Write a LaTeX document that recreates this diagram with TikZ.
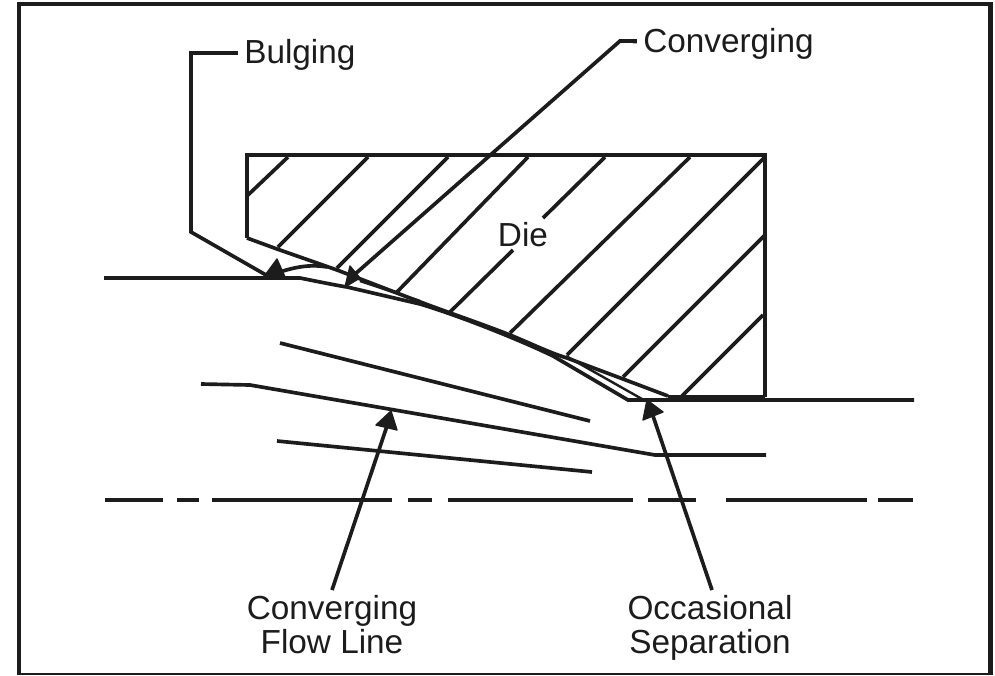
\documentclass[tikz,border=0pt]{standalone}
\usepackage{fontspec}
\setmainfont{Liberation Sans}
\definecolor{ink}{gray}{0.11}
\tikzset{
  ln/.style={draw=ink,line width=2.75pt,line join=miter,line cap=butt},
  thin ln/.style={draw=ink,line width=1.8pt},
  tip/.style={fill=ink,draw=ink,line width=1pt,line join=round},
  lab/.style={text=ink,font=\fontsize{25}{25.2}\selectfont,inner sep=0pt,align=center},
}
\begin{document}
\begin{tikzpicture}[x=0.75pt,y=-0.75pt]
\useasboundingbox (0,0) rectangle (995,675);
\fill[white] (0,0) rectangle (995,675);
% frame
\fill[ink] (17,2) rectangle (993,6);
\fill[ink] (17,2) rectangle (21,675);
\fill[ink] (988,2) rectangle (993,675);
\fill[ink] (17,672.7) rectangle (993,675);
% labels
\node[lab,anchor=base west] (bulg) at (244,63.5) {Bulging};
\node[lab,anchor=base west] (conv) at (643,52) {Converging};
\node[lab,anchor=base] (die) at (523,246) {Die};
\node[lab,anchor=north] (cfl) at (332,595) {Converging\\Flow Line};
\node[lab,anchor=north] (occ) at (710,595) {Occasional\\Separation};
% die outline
\draw[ln] (247,238) -- (247,155) -- (765,155) -- (765,397);
\draw[ln] (247,238) -- (277,249) -- (337,270) -- (397,293) .. controls (440,310) and (480,323) .. (510,335) .. controls (530,343) and (550,353) .. (567,358) -- (623,379) -- (668,396);
\draw[draw=ink,line width=4pt] (668,397.5) -- (765,397.5);
% hatching
\foreach \a/\b/\c/\d in {288/157/248/195, 368/157/278/247, 448/157/337/268, 528/157/397/292, 605/157/543/218, 513/250/450/312, 690/157/510/333, 765/157/567/355, 765/235/623/377, 763/315/682/396}
  \draw[ln] (\a,\b) -- (\c,\d);
% workpiece
\draw[ln] (104,278) -- (300,278) .. controls (320,282) and (340,286) .. (347,287) -- (420,304) .. controls (460,316) and (520,340) .. (553,356) -- (628,400) -- (914,400);
\draw[ln] (268,276) .. controls (285,270) and (305,263) .. (327,267);
% separation traces
\draw[thin ln] (360,281) -- (420,301);
\draw[thin ln] (566,356) -- (642,399);
% flow lines
\draw[ln] (280,343) -- (590,421);
\draw[ln] (201,384) -- (250,385) -- (655,455) -- (766,455);
\draw[ln] (277,441) -- (592,472);
% centre line
\foreach \a/\b in {105/163,177/199,212/392,408/432,448/633,648/696,726/867,878/913}
  \draw[ln] (\a,500) -- (\b,500);
% leaders
\coordinate (bk1) at (191,53);
\coordinate (bk2) at (191,232);
\coordinate (bt) at (266,275);
\coordinate (ck1) at (620,41);
\coordinate (ct) at (354,275);
\coordinate (ft) at (389,420);
\coordinate (ot) at (651,410);
\draw[ln] (bulg.west) ++(-8,0) |- (bk1) -- (bk2) -- (bt);
\draw[ln] (conv.west) ++(-8,0) |- (ck1) -- (ct);
\draw[ln] (cfl.north) ++(0,-5) -- (ft);
\draw[ln] (occ.north) ++(2,-5) -- (ot);
% arrow heads
\fill[tip] (277,259) -- (263,278) -- (285,277) -- cycle;
\fill[tip] (350,266) -- (345,287) -- (360,278) -- cycle;
\fill[tip] (391,411) -- (376,425) -- (397,430) -- cycle;
\fill[tip] (647,400) -- (643,420) -- (663,412) -- cycle;
\end{tikzpicture}
\end{document}
